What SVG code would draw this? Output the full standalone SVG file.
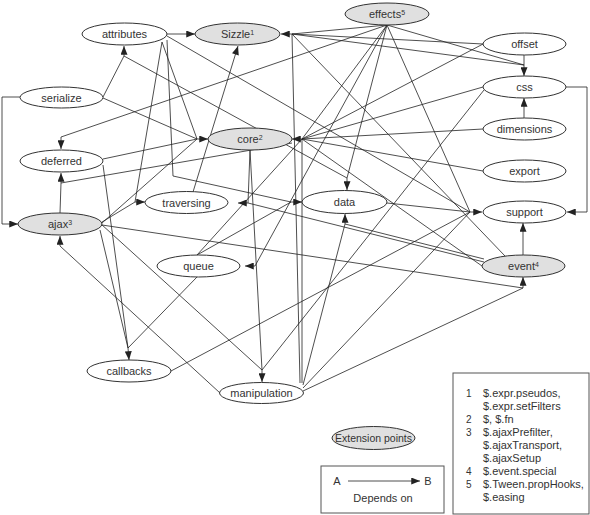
<svg xmlns="http://www.w3.org/2000/svg" width="590" height="515" viewBox="0 0 590 515">
<style>
.n ellipse{fill:#fff;stroke:#333;stroke-width:1}
.g ellipse{fill:#e0e0e0}
text{font-family:"Liberation Sans",Arial,sans-serif;font-size:11px;fill:#333;text-anchor:middle}
.sup{font-size:7px}
#edges path{fill:none;stroke:#222;stroke-width:0.8}
#edges .a{marker-end:url(#ah)}
.box{fill:#fff;stroke:#555;stroke-width:1}
.ft{text-anchor:start}
.num{text-anchor:start;font-size:10px}
</style>
<defs>
<marker id="ah" viewBox="0 0 10 8" refX="10" refY="4" markerWidth="10" markerHeight="7" markerUnits="userSpaceOnUse" orient="auto">
<path d="M0,0 L10,4 L0,8 Z" fill="#222"/>
</marker>
</defs>
<rect width="590" height="515" fill="#fff"/>
<g id="edges">
<path class="a" d="M167,34 L195,34"/>
<path class="a" d="M193,192 L238,46"/>
<path class="a" d="M292,34 L281,34"/>
<path class="a" d="M124,56 L124,46"/>
<path class="a" d="M197,139 L208,139"/>
<path class="a" d="M302,139 L292,139"/>
<path class="a" d="M61,137 L61,149"/>
<path class="a" d="M61,183 L61,173"/>
<path class="a" d="M8,224 L18,224"/>
<path class="a" d="M60,246 L60,236"/>
<path class="a" d="M135,202 L145,202"/>
<path class="a" d="M248,203 L238,203"/>
<path class="a" d="M255,266 L245,266"/>
<path class="a" d="M291,202 L302,202"/>
<path class="a" d="M347,178 L347,190"/>
<path class="a" d="M345,224 L345,214"/>
<path class="a" d="M524,65 L524,76"/>
<path class="a" d="M524,110 L524,98"/>
<path class="a" d="M470,212 L482,212"/>
<path class="a" d="M577,212 L567,212"/>
<path class="a" d="M523,255 L523,223"/>
<path class="a" d="M523,288 L523,277"/>
<path class="a" d="M128,348 L129,360"/>
<path class="a" d="M262,370 L262,382"/>
<path d="M103,97 L124,56"/>
<path d="M387,25 L292,34"/>
<path d="M483,44 L292,34"/>
<path d="M524,65 L292,34"/>
<path d="M505,256 L292,34"/>
<path d="M300,383 L292,34"/>
<path d="M103,98 L197,139"/>
<path d="M103,159 L197,139"/>
<path d="M102,223 L197,139"/>
<path d="M162,42 L197,139"/>
<path d="M387,25 L302,139"/>
<path d="M483,44 L302,139"/>
<path d="M483,87 L302,139"/>
<path d="M483,129 L302,139"/>
<path d="M483,171 L302,139"/>
<path d="M482,266 L302,139"/>
<path d="M302,383 L302,139"/>
<path d="M197,255 L302,139"/>
<path d="M387,25 L61,137"/>
<path d="M60,213 L61,183"/>
<path d="M292,143 L61,183"/>
<path d="M387,25 L255,266"/>
<path d="M250,150 L248,203"/>
<path d="M484,262 L248,203"/>
<path d="M162,42 L135,202"/>
<path d="M102,222 L135,202"/>
<path d="M167,40 L173,176 L291,202"/>
<path d="M197,255 L291,202"/>
<path d="M103,165 L128,348"/>
<path d="M100,230 L128,348"/>
<path d="M197,277 L128,348"/>
<path d="M387,25 L347,178"/>
<path d="M124,56 L347,178"/>
<path d="M303,385 L345,224"/>
<path d="M484,259 L345,224"/>
<path d="M102,225 L523,288"/>
<path d="M303,391 L523,288"/>
<path d="M167,36 L470,212"/>
<path d="M387,25 L470,212"/>
<path d="M387,203 L470,212"/>
<path d="M303,388 L470,212"/>
<path d="M171,371 L470,212"/>
<path d="M566,87 L587,87 L587,212 L577,212"/>
<path d="M524,55 L524,65"/>
<path d="M524,118 L524,110"/>
<path d="M387,25 L524,65"/>
<path d="M20,97 L2,97 L2,224 L8,224"/>
<path d="M220,393 L60,246"/>
<path d="M250,150 L262,370"/>
<path d="M101,224 L262,370"/>
<path d="M484,90 L262,370"/>
</g>
<g id="attributes" class="n"><ellipse cx="124.5" cy="34" rx="42.5" ry="11"/><text x="124.5" y="38">attributes</text></g>
<g id="sizzle" class="n g"><ellipse cx="237.5" cy="34" rx="42.5" ry="11"/><text x="237.5" y="38">Sizzle<tspan class="sup" dy="-3">1</tspan></text></g>
<g id="effects" class="n g"><ellipse cx="387" cy="14" rx="42" ry="11"/><text x="387" y="18">effects<tspan class="sup" dy="-3">5</tspan></text></g>
<g id="offset" class="n"><ellipse cx="524.5" cy="44" rx="41.5" ry="11"/><text x="524.5" y="48">offset</text></g>
<g id="css" class="n"><ellipse cx="524.5" cy="87" rx="41.5" ry="11"/><text x="524.5" y="91">css</text></g>
<g id="dimensions" class="n"><ellipse cx="524.5" cy="129" rx="41.5" ry="11"/><text x="524.5" y="133">dimensions</text></g>
<g id="export" class="n"><ellipse cx="524.5" cy="171" rx="41.5" ry="11"/><text x="524.5" y="175">export</text></g>
<g id="support" class="n"><ellipse cx="524.5" cy="212" rx="41.5" ry="11"/><text x="524.5" y="216">support</text></g>
<g id="serialize" class="n"><ellipse cx="61.5" cy="97.5" rx="41.5" ry="10.5"/><text x="61.5" y="101.5">serialize</text></g>
<g id="deferred" class="n"><ellipse cx="61.5" cy="161" rx="41.5" ry="11"/><text x="61.5" y="165">deferred</text></g>
<g id="core" class="n g"><ellipse cx="250" cy="139" rx="42" ry="11"/><text x="250" y="143">core<tspan class="sup" dy="-3">2</tspan></text></g>
<g id="traversing" class="n"><ellipse cx="186.5" cy="202.5" rx="41.5" ry="11"/><text x="186.5" y="206.5">traversing</text></g>
<g id="data" class="n"><ellipse cx="344.5" cy="202" rx="42.5" ry="11.5"/><text x="344.5" y="206">data</text></g>
<g id="ajax" class="n g"><ellipse cx="60" cy="224" rx="42" ry="11"/><text x="60" y="228">ajax<tspan class="sup" dy="-3">3</tspan></text></g>
<g id="event" class="n g"><ellipse cx="523.5" cy="266" rx="41.5" ry="11"/><text x="523.5" y="270">event<tspan class="sup" dy="-3">4</tspan></text></g>
<g id="queue" class="n"><ellipse cx="198.5" cy="266" rx="41.5" ry="11"/><text x="198.5" y="270">queue</text></g>
<g id="callbacks" class="n"><ellipse cx="129" cy="371" rx="42" ry="11"/><text x="129" y="375">callbacks</text></g>
<g id="manipulation" class="n"><ellipse cx="261.5" cy="393" rx="42" ry="10.5"/><text x="261.5" y="397">manipulation</text></g>
<g id="legend-ext" class="n g"><ellipse cx="373.5" cy="438" rx="41.5" ry="11.5"/><text x="373.5" y="442" style="font-size:10.5px">Extension points</text></g>
<g id="legend-dep">
<rect class="box" x="321" y="466" width="123" height="47"/>
<text x="337" y="485">A</text>
<path d="M348,481 L420,481" stroke="#222" stroke-width="0.8" marker-end="url(#ah)"/>
<text x="428" y="485">B</text>
<text x="383" y="502">Depends on</text>
</g>
<g id="legend-notes">
<rect class="box" x="453" y="373" width="136" height="141"/>
<text class="num" x="466" y="397">1</text><text class="ft" x="483" y="397">$.expr.pseudos,</text>
<text class="ft" x="483" y="410">$.expr.setFilters</text>
<text class="num" x="466" y="423">2</text><text class="ft" x="483" y="423">$, $.fn</text>
<text class="num" x="466" y="436">3</text><text class="ft" x="483" y="436">$.ajaxPrefilter,</text>
<text class="ft" x="483" y="449">$.ajaxTransport,</text>
<text class="ft" x="483" y="462">$.ajaxSetup</text>
<text class="num" x="466" y="475">4</text><text class="ft" x="483" y="475">$.event.special</text>
<text class="num" x="466" y="488">5</text><text class="ft" x="483" y="488">$.Tween.propHooks,</text>
<text class="ft" x="483" y="501">$.easing</text>
</g>
</svg>
